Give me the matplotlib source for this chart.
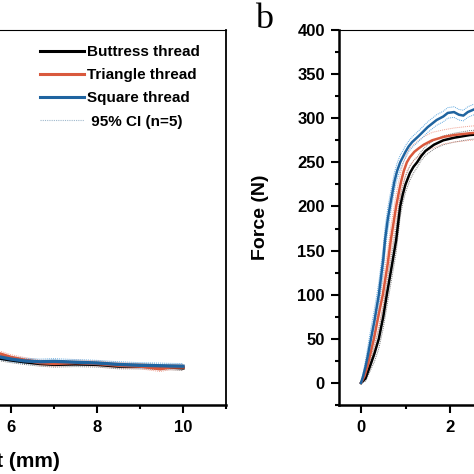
import matplotlib
matplotlib.use("Agg")
import matplotlib.pyplot as plt
from matplotlib.ticker import MultipleLocator
from matplotlib.lines import Line2D

plt.rcParams['font.family'] = ['Liberation Sans', 'DejaVu Sans']
plt.rcParams['font.weight'] = 'bold'

# ---- panel a (right part visible): displacement vs force ----
a_x = [5.0, 5.5, 5.74, 6.0, 6.3, 6.67, 7.0, 7.5, 8.0, 8.5, 9.0, 9.47, 9.7, 10.0]
a_buttress = [32, 30, 28, 26, 24, 22, 21, 21.5, 21, 19, 19, 18, 18, 17]
a_triangle = [36, 34, 33, 29, 26, 23, 22, 23, 22, 20, 19, 16, 18, 18]
a_square = [33, 31, 29.5, 27, 25, 24, 24.5, 23.5, 22.6, 21, 20, 19.5, 19.2, 19]
a_ci = [3, 3, 3, 3, 3, 3, 3, 3, 3, 3, 3, 3, 3, 3]

# ---- panel b ----
b_x_square = [0, 0.05, 0.1, 0.15, 0.22, 0.3, 0.4, 0.5, 0.54, 0.6, 0.65, 0.7, 0.75, 0.81, 0.88,
              0.94, 1.0, 1.07, 1.15, 1.3, 1.5, 1.7, 1.85, 1.95, 2.09, 2.2, 2.3, 2.4, 2.54, 2.7, 3.0]
b_square = [0, 8, 18, 30, 49, 70, 100, 140, 162, 185, 200, 214, 228, 240, 250,
            256, 262, 268, 273, 280, 290, 298, 302, 306, 307, 304, 303, 307, 310, 312, 315]
b_ci_square = [0, 4, 7, 10, 12, 13, 14, 14, 14, 13, 12, 11, 10, 9, 8,
               7, 7, 6, 6, 6, 6, 6, 6, 6, 6, 6, 6, 6, 6, 6, 6]

b_x_triangle = [0, 0.08, 0.15, 0.22, 0.29, 0.4, 0.49, 0.6, 0.67, 0.79, 0.85, 0.9, 0.96, 1.03,
                1.1, 1.2, 1.3, 1.41, 1.6, 1.87, 2.1, 2.45, 2.7, 3.0]
b_triangle = [0, 8, 20, 35, 50, 78, 100, 135, 162, 200, 216, 228, 240, 250,
              256, 262, 266, 270, 275, 279, 281, 283, 284, 285]
b_ci_triangle = [0, 4, 7, 10, 12, 14, 15, 15, 15, 14, 13, 12, 11, 10,
                 10, 9, 9, 9, 9, 8, 8, 8, 8, 8]

b_x_buttress = [0, 0.1, 0.21, 0.3, 0.4, 0.5, 0.58, 0.7, 0.79, 0.88, 0.94, 1.0, 1.1, 1.18, 1.26,
                1.35, 1.45, 1.64, 1.85, 2.1, 2.45, 2.7, 3.0]
b_buttress = [0, 5, 20, 33, 50, 75, 100, 135, 162, 200, 214, 225, 238, 245, 250,
              257, 263, 270, 275, 278, 281, 282, 283]
b_ci_buttress = [0, 3, 6, 9, 11, 13, 14, 14, 14, 12, 10, 9, 8, 7, 6,
                 5, 5, 5, 5, 5, 5, 5, 5]

labels = ["Buttress thread", "Triangle thread", "Square thread", " 95% CI (n=5)"]
c_black, c_red, c_blue = "#000000", "#d9593d", "#1f64a0"
ci_black, ci_red, ci_blue = "#7a7a7a", "#f0a090", "#5fa8e0"

W = 474.0
fig = plt.figure(figsize=(4.74, 4.74), dpi=100)
fig.patch.set_facecolor("white")

ax_a = fig.add_axes([-268.5 / W, 69 / W, 494.5 / W, 375 / W])
ax_b = fig.add_axes([338.75 / W, 69 / W, 511.75 / W, 375 / W])


def band(ax, x, m, h, col, ccol, lw):
    up = [v + d for v, d in zip(m, h)]
    lo = [v - d for v, d in zip(m, h)]
    ax.plot(x, up, color=ccol, lw=0.7, ls=(0, (1, 1)), zorder=2)
    ax.plot(x, lo, color=ccol, lw=0.7, ls=(0, (1, 1)), zorder=2)
    ax.plot(x, m, color=col, lw=lw, zorder=3)


band(ax_a, a_x, a_buttress, a_ci, c_black, ci_black, 2.4)
band(ax_a, a_x, a_triangle, a_ci, c_red, ci_red, 2.4)
band(ax_a, a_x, a_square, a_ci, c_blue, ci_blue, 2.4)

band(ax_b, b_x_buttress, b_buttress, b_ci_buttress, c_black, ci_black, 1.8)
band(ax_b, b_x_triangle, b_triangle, b_ci_triangle, c_red, ci_red, 1.8)
band(ax_b, b_x_square, b_square, b_ci_square, c_blue, ci_blue, 1.8)

for ax in (ax_a, ax_b):
    ax.set_xlim(-0.5, 11)
    ax.set_ylim(-25, 400)
    ax.xaxis.set_major_locator(MultipleLocator(2))
    ax.xaxis.set_minor_locator(MultipleLocator(1))
    ax.yaxis.set_major_locator(MultipleLocator(50))
    ax.yaxis.set_minor_locator(MultipleLocator(25))
    ax.tick_params(which='major', direction='out', length=6, width=1.5, labelsize=12, pad=4)
    ax.tick_params(which='minor', direction='out', length=3, width=1.5)
    ax.tick_params(axis='x', which='major', pad=5)
    ax.tick_params(top=False, right=False, which='both')
    for t in ax.get_xticklabels() + ax.get_yticklabels():
        t.set_fontweight('bold')
    ax.spines['bottom'].set_linewidth(1.8)
    ax.spines['left'].set_linewidth(1.8)
    ax.spines['top'].set_linewidth(0.8)
    ax.spines['right'].set_linewidth(1.3)

ax_a.set_xlabel("Displacement (mm)", fontsize=15, fontweight='bold')
ax_a.xaxis.set_label_coords(0.47, -0.125)
ax_b.set_ylabel("Force (N)", fontsize=14, fontweight='bold')
ax_b.yaxis.set_label_coords(-0.136, 0.5)

handles = [Line2D([], [], color=c_black, lw=2.2),
           Line2D([], [], color=c_red, lw=2.2),
           Line2D([], [], color=c_blue, lw=2.2),
           Line2D([], [], color="#9fb8cc", lw=0.8, ls=(0, (1, 1)))]
leg = ax_a.legend(handles, labels, loc='upper left', bbox_to_anchor=(40 / W, 1 - 45 / W),
                  bbox_transform=fig.transFigure, frameon=False, borderpad=0,
                  borderaxespad=0, handlelength=2.9, handletextpad=0.2, labelspacing=0.6,
                  prop={'size': 11, 'weight': 'bold'})

fig.text(255 / W, 1 - 28 / W, "b", family=['Liberation Serif', 'DejaVu Serif'],
         fontsize=26, fontweight='normal', ha='left', va='baseline')

fig.savefig("out.png", dpi=100)
